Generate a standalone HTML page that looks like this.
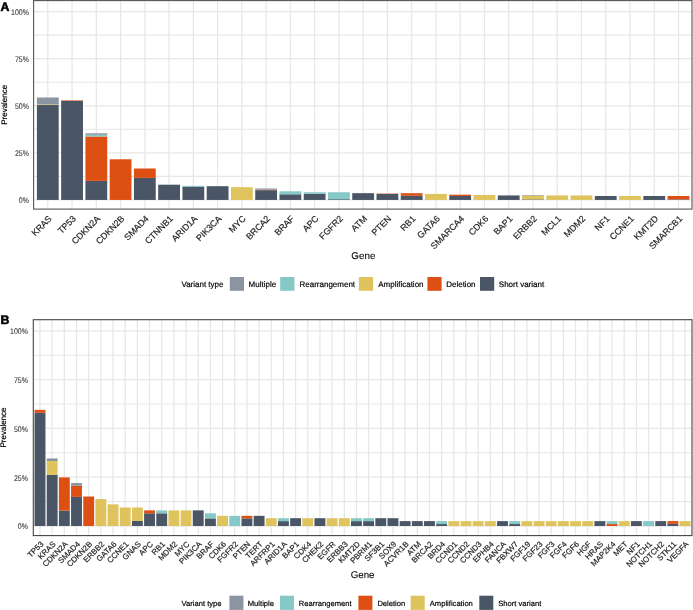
<!DOCTYPE html>
<html><head><meta charset="utf-8"><title>Variant prevalence</title>
<style>
html,body{margin:0;padding:0;background:#fff;}
body{width:693px;height:610px;overflow:hidden;}
svg{display:block;text-rendering:geometricPrecision;}
</style></head><body>
<svg width="693" height="610" viewBox="0 0 693 610" font-family="'Liberation Sans', Arial, Helvetica, sans-serif">
<rect width="693" height="610" fill="#fff"/>
<rect x="33.6" y="0.6" width="658.4" height="208.5" fill="#fff"/>
<line x1="33.6" x2="692" y1="176.41" y2="176.41" stroke="#e7e7e7" stroke-width="1.1"/>
<line x1="33.6" x2="692" y1="129.32" y2="129.32" stroke="#e7e7e7" stroke-width="1.1"/>
<line x1="33.6" x2="692" y1="82.23" y2="82.23" stroke="#e7e7e7" stroke-width="1.1"/>
<line x1="33.6" x2="692" y1="35.14" y2="35.14" stroke="#e7e7e7" stroke-width="1.1"/>
<line x1="33.6" x2="692" y1="199.95" y2="199.95" stroke="#e7e7e7" stroke-width="1.25"/>
<line x1="33.6" x2="692" y1="152.86" y2="152.86" stroke="#e7e7e7" stroke-width="1.25"/>
<line x1="33.6" x2="692" y1="105.77" y2="105.77" stroke="#e7e7e7" stroke-width="1.25"/>
<line x1="33.6" x2="692" y1="58.69" y2="58.69" stroke="#e7e7e7" stroke-width="1.25"/>
<line x1="33.6" x2="692" y1="11.6" y2="11.6" stroke="#e7e7e7" stroke-width="1.25"/>
<line x1="47.8" x2="47.8" y1="0.6" y2="209.1" stroke="#e7e7e7" stroke-width="1.25"/>
<line x1="72.06" x2="72.06" y1="0.6" y2="209.1" stroke="#e7e7e7" stroke-width="1.25"/>
<line x1="96.32" x2="96.32" y1="0.6" y2="209.1" stroke="#e7e7e7" stroke-width="1.25"/>
<line x1="120.57" x2="120.57" y1="0.6" y2="209.1" stroke="#e7e7e7" stroke-width="1.25"/>
<line x1="144.83" x2="144.83" y1="0.6" y2="209.1" stroke="#e7e7e7" stroke-width="1.25"/>
<line x1="169.09" x2="169.09" y1="0.6" y2="209.1" stroke="#e7e7e7" stroke-width="1.25"/>
<line x1="193.35" x2="193.35" y1="0.6" y2="209.1" stroke="#e7e7e7" stroke-width="1.25"/>
<line x1="217.6" x2="217.6" y1="0.6" y2="209.1" stroke="#e7e7e7" stroke-width="1.25"/>
<line x1="241.86" x2="241.86" y1="0.6" y2="209.1" stroke="#e7e7e7" stroke-width="1.25"/>
<line x1="266.12" x2="266.12" y1="0.6" y2="209.1" stroke="#e7e7e7" stroke-width="1.25"/>
<line x1="290.38" x2="290.38" y1="0.6" y2="209.1" stroke="#e7e7e7" stroke-width="1.25"/>
<line x1="314.63" x2="314.63" y1="0.6" y2="209.1" stroke="#e7e7e7" stroke-width="1.25"/>
<line x1="338.89" x2="338.89" y1="0.6" y2="209.1" stroke="#e7e7e7" stroke-width="1.25"/>
<line x1="363.15" x2="363.15" y1="0.6" y2="209.1" stroke="#e7e7e7" stroke-width="1.25"/>
<line x1="387.41" x2="387.41" y1="0.6" y2="209.1" stroke="#e7e7e7" stroke-width="1.25"/>
<line x1="411.67" x2="411.67" y1="0.6" y2="209.1" stroke="#e7e7e7" stroke-width="1.25"/>
<line x1="435.92" x2="435.92" y1="0.6" y2="209.1" stroke="#e7e7e7" stroke-width="1.25"/>
<line x1="460.18" x2="460.18" y1="0.6" y2="209.1" stroke="#e7e7e7" stroke-width="1.25"/>
<line x1="484.44" x2="484.44" y1="0.6" y2="209.1" stroke="#e7e7e7" stroke-width="1.25"/>
<line x1="508.7" x2="508.7" y1="0.6" y2="209.1" stroke="#e7e7e7" stroke-width="1.25"/>
<line x1="532.95" x2="532.95" y1="0.6" y2="209.1" stroke="#e7e7e7" stroke-width="1.25"/>
<line x1="557.21" x2="557.21" y1="0.6" y2="209.1" stroke="#e7e7e7" stroke-width="1.25"/>
<line x1="581.47" x2="581.47" y1="0.6" y2="209.1" stroke="#e7e7e7" stroke-width="1.25"/>
<line x1="605.73" x2="605.73" y1="0.6" y2="209.1" stroke="#e7e7e7" stroke-width="1.25"/>
<line x1="629.98" x2="629.98" y1="0.6" y2="209.1" stroke="#e7e7e7" stroke-width="1.25"/>
<line x1="654.24" x2="654.24" y1="0.6" y2="209.1" stroke="#e7e7e7" stroke-width="1.25"/>
<line x1="678.5" x2="678.5" y1="0.6" y2="209.1" stroke="#e7e7e7" stroke-width="1.25"/>
<rect x="36.9" y="105.02" width="21.8" height="94.93" fill="#4a5565"/>
<rect x="36.9" y="104.46" width="21.8" height="0.57" fill="#dfc45e"/>
<rect x="36.9" y="97.49" width="21.8" height="6.97" fill="#8a95a1"/>
<rect x="61.16" y="100.78" width="21.8" height="99.17" fill="#4a5565"/>
<rect x="61.16" y="100.31" width="21.8" height="0.47" fill="#de4f13"/>
<rect x="85.42" y="180.93" width="21.8" height="19.02" fill="#4a5565"/>
<rect x="85.42" y="136.48" width="21.8" height="44.45" fill="#de4f13"/>
<rect x="85.42" y="134.78" width="21.8" height="1.7" fill="#84c9c5"/>
<rect x="85.42" y="133.27" width="21.8" height="1.51" fill="#8a95a1"/>
<rect x="109.67" y="159.27" width="21.8" height="40.68" fill="#de4f13"/>
<rect x="133.93" y="177.91" width="21.8" height="22.04" fill="#4a5565"/>
<rect x="133.93" y="168.5" width="21.8" height="9.42" fill="#de4f13"/>
<rect x="158.19" y="184.69" width="21.8" height="15.26" fill="#4a5565"/>
<rect x="182.45" y="186.95" width="21.8" height="13" fill="#4a5565"/>
<rect x="182.45" y="185.82" width="21.8" height="1.13" fill="#84c9c5"/>
<rect x="206.7" y="186.2" width="21.8" height="13.75" fill="#4a5565"/>
<rect x="230.96" y="187.14" width="21.8" height="12.81" fill="#dfc45e"/>
<rect x="255.22" y="190.16" width="21.8" height="9.79" fill="#4a5565"/>
<rect x="255.22" y="189.59" width="21.8" height="0.57" fill="#de4f13"/>
<rect x="255.22" y="188.46" width="21.8" height="1.13" fill="#8a95a1"/>
<rect x="279.48" y="194.3" width="21.8" height="5.65" fill="#4a5565"/>
<rect x="279.48" y="191.29" width="21.8" height="3.01" fill="#84c9c5"/>
<rect x="303.73" y="193.73" width="21.8" height="6.22" fill="#4a5565"/>
<rect x="303.73" y="192.23" width="21.8" height="1.51" fill="#84c9c5"/>
<rect x="327.99" y="199.2" width="21.8" height="0.75" fill="#4a5565"/>
<rect x="327.99" y="192.23" width="21.8" height="6.97" fill="#84c9c5"/>
<rect x="352.25" y="193.17" width="21.8" height="6.78" fill="#4a5565"/>
<rect x="376.51" y="193.92" width="21.8" height="6.03" fill="#4a5565"/>
<rect x="376.51" y="193.55" width="21.8" height="0.38" fill="#de4f13"/>
<rect x="400.77" y="195.81" width="21.8" height="4.14" fill="#4a5565"/>
<rect x="400.77" y="193.17" width="21.8" height="2.64" fill="#de4f13"/>
<rect x="425.02" y="193.92" width="21.8" height="6.03" fill="#dfc45e"/>
<rect x="449.28" y="195.99" width="21.8" height="3.96" fill="#4a5565"/>
<rect x="449.28" y="194.68" width="21.8" height="1.32" fill="#de4f13"/>
<rect x="473.54" y="195.05" width="21.8" height="4.9" fill="#dfc45e"/>
<rect x="497.8" y="195.43" width="21.8" height="4.52" fill="#4a5565"/>
<rect x="522.05" y="199.38" width="21.8" height="0.57" fill="#4a5565"/>
<rect x="522.05" y="195.62" width="21.8" height="3.77" fill="#dfc45e"/>
<rect x="522.05" y="195.05" width="21.8" height="0.57" fill="#8a95a1"/>
<rect x="546.31" y="195.43" width="21.8" height="4.52" fill="#dfc45e"/>
<rect x="570.57" y="195.43" width="21.8" height="4.52" fill="#dfc45e"/>
<rect x="594.83" y="195.99" width="21.8" height="3.96" fill="#4a5565"/>
<rect x="619.08" y="195.99" width="21.8" height="3.96" fill="#dfc45e"/>
<rect x="643.34" y="195.99" width="21.8" height="3.96" fill="#4a5565"/>
<rect x="667.6" y="199.38" width="21.8" height="0.57" fill="#4a5565"/>
<rect x="667.6" y="195.99" width="21.8" height="3.39" fill="#de4f13"/>
<rect x="33.6" y="0.6" width="658.4" height="208.5" fill="none" stroke="#555555" stroke-width="1.1"/>
<text transform="translate(28.9 203.25) scale(1 1.16)" font-size="7.0" fill="#333333" stroke="#333333" stroke-width="0.08" text-anchor="end">0%</text>
<text transform="translate(28.9 156.16) scale(1 1.16)" font-size="7.0" fill="#333333" stroke="#333333" stroke-width="0.08" text-anchor="end">25%</text>
<text transform="translate(28.9 109.07) scale(1 1.16)" font-size="7.0" fill="#333333" stroke="#333333" stroke-width="0.08" text-anchor="end">50%</text>
<text transform="translate(28.9 61.99) scale(1 1.16)" font-size="7.0" fill="#333333" stroke="#333333" stroke-width="0.08" text-anchor="end">75%</text>
<text transform="translate(28.9 14.9) scale(1 1.16)" font-size="7.0" fill="#333333" stroke="#333333" stroke-width="0.08" text-anchor="end">100%</text>
<text x="6.8" y="104.8" font-size="8.0" fill="#000" text-anchor="middle" transform="rotate(-90 6.8 104.8)" stroke="#000" stroke-width="0.18">Prevalence</text>
<text x="47.8" y="221.17" font-size="8.9" fill="#1e1e1e" text-anchor="end" transform="rotate(-45 47.8 214.8)" stroke="#1e1e1e" stroke-width="0.18">KRAS</text>
<text x="72.06" y="221.17" font-size="8.9" fill="#1e1e1e" text-anchor="end" transform="rotate(-45 72.06 214.8)" stroke="#1e1e1e" stroke-width="0.18">TP53</text>
<text x="96.32" y="221.17" font-size="8.9" fill="#1e1e1e" text-anchor="end" transform="rotate(-45 96.32 214.8)" stroke="#1e1e1e" stroke-width="0.18">CDKN2A</text>
<text x="120.57" y="221.17" font-size="8.9" fill="#1e1e1e" text-anchor="end" transform="rotate(-45 120.57 214.8)" stroke="#1e1e1e" stroke-width="0.18">CDKN2B</text>
<text x="144.83" y="221.17" font-size="8.9" fill="#1e1e1e" text-anchor="end" transform="rotate(-45 144.83 214.8)" stroke="#1e1e1e" stroke-width="0.18">SMAD4</text>
<text x="169.09" y="221.17" font-size="8.9" fill="#1e1e1e" text-anchor="end" transform="rotate(-45 169.09 214.8)" stroke="#1e1e1e" stroke-width="0.18">CTNNB1</text>
<text x="193.35" y="221.17" font-size="8.9" fill="#1e1e1e" text-anchor="end" transform="rotate(-45 193.35 214.8)" stroke="#1e1e1e" stroke-width="0.18">ARID1A</text>
<text x="217.6" y="221.17" font-size="8.9" fill="#1e1e1e" text-anchor="end" transform="rotate(-45 217.6 214.8)" stroke="#1e1e1e" stroke-width="0.18">PIK3CA</text>
<text x="241.86" y="221.17" font-size="8.9" fill="#1e1e1e" text-anchor="end" transform="rotate(-45 241.86 214.8)" stroke="#1e1e1e" stroke-width="0.18">MYC</text>
<text x="266.12" y="221.17" font-size="8.9" fill="#1e1e1e" text-anchor="end" transform="rotate(-45 266.12 214.8)" stroke="#1e1e1e" stroke-width="0.18">BRCA2</text>
<text x="290.38" y="221.17" font-size="8.9" fill="#1e1e1e" text-anchor="end" transform="rotate(-45 290.38 214.8)" stroke="#1e1e1e" stroke-width="0.18">BRAF</text>
<text x="314.63" y="221.17" font-size="8.9" fill="#1e1e1e" text-anchor="end" transform="rotate(-45 314.63 214.8)" stroke="#1e1e1e" stroke-width="0.18">APC</text>
<text x="338.89" y="221.17" font-size="8.9" fill="#1e1e1e" text-anchor="end" transform="rotate(-45 338.89 214.8)" stroke="#1e1e1e" stroke-width="0.18">FGFR2</text>
<text x="363.15" y="221.17" font-size="8.9" fill="#1e1e1e" text-anchor="end" transform="rotate(-45 363.15 214.8)" stroke="#1e1e1e" stroke-width="0.18">ATM</text>
<text x="387.41" y="221.17" font-size="8.9" fill="#1e1e1e" text-anchor="end" transform="rotate(-45 387.41 214.8)" stroke="#1e1e1e" stroke-width="0.18">PTEN</text>
<text x="411.67" y="221.17" font-size="8.9" fill="#1e1e1e" text-anchor="end" transform="rotate(-45 411.67 214.8)" stroke="#1e1e1e" stroke-width="0.18">RB1</text>
<text x="435.92" y="221.17" font-size="8.9" fill="#1e1e1e" text-anchor="end" transform="rotate(-45 435.92 214.8)" stroke="#1e1e1e" stroke-width="0.18">GATA6</text>
<text x="460.18" y="221.17" font-size="8.9" fill="#1e1e1e" text-anchor="end" transform="rotate(-45 460.18 214.8)" stroke="#1e1e1e" stroke-width="0.18">SMARCA4</text>
<text x="484.44" y="221.17" font-size="8.9" fill="#1e1e1e" text-anchor="end" transform="rotate(-45 484.44 214.8)" stroke="#1e1e1e" stroke-width="0.18">CDK6</text>
<text x="508.7" y="221.17" font-size="8.9" fill="#1e1e1e" text-anchor="end" transform="rotate(-45 508.7 214.8)" stroke="#1e1e1e" stroke-width="0.18">BAP1</text>
<text x="532.95" y="221.17" font-size="8.9" fill="#1e1e1e" text-anchor="end" transform="rotate(-45 532.95 214.8)" stroke="#1e1e1e" stroke-width="0.18">ERBB2</text>
<text x="557.21" y="221.17" font-size="8.9" fill="#1e1e1e" text-anchor="end" transform="rotate(-45 557.21 214.8)" stroke="#1e1e1e" stroke-width="0.18">MCL1</text>
<text x="581.47" y="221.17" font-size="8.9" fill="#1e1e1e" text-anchor="end" transform="rotate(-45 581.47 214.8)" stroke="#1e1e1e" stroke-width="0.18">MDM2</text>
<text x="605.73" y="221.17" font-size="8.9" fill="#1e1e1e" text-anchor="end" transform="rotate(-45 605.73 214.8)" stroke="#1e1e1e" stroke-width="0.18">NF1</text>
<text x="629.98" y="221.17" font-size="8.9" fill="#1e1e1e" text-anchor="end" transform="rotate(-45 629.98 214.8)" stroke="#1e1e1e" stroke-width="0.18">CCNE1</text>
<text x="654.24" y="221.17" font-size="8.9" fill="#1e1e1e" text-anchor="end" transform="rotate(-45 654.24 214.8)" stroke="#1e1e1e" stroke-width="0.18">KMT2D</text>
<text x="678.5" y="221.17" font-size="8.9" fill="#1e1e1e" text-anchor="end" transform="rotate(-45 678.5 214.8)" stroke="#1e1e1e" stroke-width="0.18">SMARCB1</text>
<text x="363.4" y="259.4" font-size="9.85" fill="#000" stroke="#000" stroke-width="0.08" text-anchor="middle">Gene</text>
<text x="0.5" y="10.9" font-size="12.3" font-weight="bold" fill="#000" stroke="#000" stroke-width="0.55">A</text>
<text x="181.4" y="287" font-size="8.0" fill="#000" stroke="#000" stroke-width="0.18">Variant type</text>
<rect x="229.8" y="277" width="14.2" height="13.8" fill="#8a95a1"/>
<text x="248.6" y="287" font-size="8.0" fill="#000" stroke="#000" stroke-width="0.18">Multiple</text>
<rect x="280.2" y="277" width="14.2" height="13.8" fill="#84c9c5"/>
<text x="299.5" y="287" font-size="8.0" fill="#000" stroke="#000" stroke-width="0.18">Rearrangement</text>
<rect x="358.9" y="277" width="14.2" height="13.8" fill="#dfc45e"/>
<text x="378.2" y="287" font-size="8.0" fill="#000" stroke="#000" stroke-width="0.18">Amplification</text>
<rect x="427.4" y="277" width="14.2" height="13.8" fill="#de4f13"/>
<text x="446.2" y="287" font-size="8.0" fill="#000" stroke="#000" stroke-width="0.18">Deletion</text>
<rect x="480" y="277" width="14.2" height="13.8" fill="#4a5565"/>
<text x="498.8" y="287" font-size="8.0" fill="#000" stroke="#000" stroke-width="0.18">Short variant</text>
<rect x="33.3" y="319.7" width="658.7" height="215.9" fill="#fff"/>
<line x1="33.3" x2="692" y1="501.6" y2="501.6" stroke="#e7e7e7" stroke-width="1.1"/>
<line x1="33.3" x2="692" y1="452.8" y2="452.8" stroke="#e7e7e7" stroke-width="1.1"/>
<line x1="33.3" x2="692" y1="404" y2="404" stroke="#e7e7e7" stroke-width="1.1"/>
<line x1="33.3" x2="692" y1="355.2" y2="355.2" stroke="#e7e7e7" stroke-width="1.1"/>
<line x1="33.3" x2="692" y1="526" y2="526" stroke="#e7e7e7" stroke-width="1.25"/>
<line x1="33.3" x2="692" y1="477.2" y2="477.2" stroke="#e7e7e7" stroke-width="1.25"/>
<line x1="33.3" x2="692" y1="428.4" y2="428.4" stroke="#e7e7e7" stroke-width="1.25"/>
<line x1="33.3" x2="692" y1="379.6" y2="379.6" stroke="#e7e7e7" stroke-width="1.25"/>
<line x1="33.3" x2="692" y1="330.8" y2="330.8" stroke="#e7e7e7" stroke-width="1.25"/>
<line x1="40" x2="40" y1="319.7" y2="535.6" stroke="#e7e7e7" stroke-width="1.25"/>
<line x1="52.17" x2="52.17" y1="319.7" y2="535.6" stroke="#e7e7e7" stroke-width="1.25"/>
<line x1="64.34" x2="64.34" y1="319.7" y2="535.6" stroke="#e7e7e7" stroke-width="1.25"/>
<line x1="76.51" x2="76.51" y1="319.7" y2="535.6" stroke="#e7e7e7" stroke-width="1.25"/>
<line x1="88.68" x2="88.68" y1="319.7" y2="535.6" stroke="#e7e7e7" stroke-width="1.25"/>
<line x1="100.85" x2="100.85" y1="319.7" y2="535.6" stroke="#e7e7e7" stroke-width="1.25"/>
<line x1="113.03" x2="113.03" y1="319.7" y2="535.6" stroke="#e7e7e7" stroke-width="1.25"/>
<line x1="125.2" x2="125.2" y1="319.7" y2="535.6" stroke="#e7e7e7" stroke-width="1.25"/>
<line x1="137.37" x2="137.37" y1="319.7" y2="535.6" stroke="#e7e7e7" stroke-width="1.25"/>
<line x1="149.54" x2="149.54" y1="319.7" y2="535.6" stroke="#e7e7e7" stroke-width="1.25"/>
<line x1="161.71" x2="161.71" y1="319.7" y2="535.6" stroke="#e7e7e7" stroke-width="1.25"/>
<line x1="173.88" x2="173.88" y1="319.7" y2="535.6" stroke="#e7e7e7" stroke-width="1.25"/>
<line x1="186.05" x2="186.05" y1="319.7" y2="535.6" stroke="#e7e7e7" stroke-width="1.25"/>
<line x1="198.22" x2="198.22" y1="319.7" y2="535.6" stroke="#e7e7e7" stroke-width="1.25"/>
<line x1="210.39" x2="210.39" y1="319.7" y2="535.6" stroke="#e7e7e7" stroke-width="1.25"/>
<line x1="222.56" x2="222.56" y1="319.7" y2="535.6" stroke="#e7e7e7" stroke-width="1.25"/>
<line x1="234.74" x2="234.74" y1="319.7" y2="535.6" stroke="#e7e7e7" stroke-width="1.25"/>
<line x1="246.91" x2="246.91" y1="319.7" y2="535.6" stroke="#e7e7e7" stroke-width="1.25"/>
<line x1="259.08" x2="259.08" y1="319.7" y2="535.6" stroke="#e7e7e7" stroke-width="1.25"/>
<line x1="271.25" x2="271.25" y1="319.7" y2="535.6" stroke="#e7e7e7" stroke-width="1.25"/>
<line x1="283.42" x2="283.42" y1="319.7" y2="535.6" stroke="#e7e7e7" stroke-width="1.25"/>
<line x1="295.59" x2="295.59" y1="319.7" y2="535.6" stroke="#e7e7e7" stroke-width="1.25"/>
<line x1="307.76" x2="307.76" y1="319.7" y2="535.6" stroke="#e7e7e7" stroke-width="1.25"/>
<line x1="319.93" x2="319.93" y1="319.7" y2="535.6" stroke="#e7e7e7" stroke-width="1.25"/>
<line x1="332.1" x2="332.1" y1="319.7" y2="535.6" stroke="#e7e7e7" stroke-width="1.25"/>
<line x1="344.27" x2="344.27" y1="319.7" y2="535.6" stroke="#e7e7e7" stroke-width="1.25"/>
<line x1="356.44" x2="356.44" y1="319.7" y2="535.6" stroke="#e7e7e7" stroke-width="1.25"/>
<line x1="368.62" x2="368.62" y1="319.7" y2="535.6" stroke="#e7e7e7" stroke-width="1.25"/>
<line x1="380.79" x2="380.79" y1="319.7" y2="535.6" stroke="#e7e7e7" stroke-width="1.25"/>
<line x1="392.96" x2="392.96" y1="319.7" y2="535.6" stroke="#e7e7e7" stroke-width="1.25"/>
<line x1="405.13" x2="405.13" y1="319.7" y2="535.6" stroke="#e7e7e7" stroke-width="1.25"/>
<line x1="417.3" x2="417.3" y1="319.7" y2="535.6" stroke="#e7e7e7" stroke-width="1.25"/>
<line x1="429.47" x2="429.47" y1="319.7" y2="535.6" stroke="#e7e7e7" stroke-width="1.25"/>
<line x1="441.64" x2="441.64" y1="319.7" y2="535.6" stroke="#e7e7e7" stroke-width="1.25"/>
<line x1="453.81" x2="453.81" y1="319.7" y2="535.6" stroke="#e7e7e7" stroke-width="1.25"/>
<line x1="465.98" x2="465.98" y1="319.7" y2="535.6" stroke="#e7e7e7" stroke-width="1.25"/>
<line x1="478.15" x2="478.15" y1="319.7" y2="535.6" stroke="#e7e7e7" stroke-width="1.25"/>
<line x1="490.32" x2="490.32" y1="319.7" y2="535.6" stroke="#e7e7e7" stroke-width="1.25"/>
<line x1="502.5" x2="502.5" y1="319.7" y2="535.6" stroke="#e7e7e7" stroke-width="1.25"/>
<line x1="514.67" x2="514.67" y1="319.7" y2="535.6" stroke="#e7e7e7" stroke-width="1.25"/>
<line x1="526.84" x2="526.84" y1="319.7" y2="535.6" stroke="#e7e7e7" stroke-width="1.25"/>
<line x1="539.01" x2="539.01" y1="319.7" y2="535.6" stroke="#e7e7e7" stroke-width="1.25"/>
<line x1="551.18" x2="551.18" y1="319.7" y2="535.6" stroke="#e7e7e7" stroke-width="1.25"/>
<line x1="563.35" x2="563.35" y1="319.7" y2="535.6" stroke="#e7e7e7" stroke-width="1.25"/>
<line x1="575.52" x2="575.52" y1="319.7" y2="535.6" stroke="#e7e7e7" stroke-width="1.25"/>
<line x1="587.69" x2="587.69" y1="319.7" y2="535.6" stroke="#e7e7e7" stroke-width="1.25"/>
<line x1="599.86" x2="599.86" y1="319.7" y2="535.6" stroke="#e7e7e7" stroke-width="1.25"/>
<line x1="612.03" x2="612.03" y1="319.7" y2="535.6" stroke="#e7e7e7" stroke-width="1.25"/>
<line x1="624.21" x2="624.21" y1="319.7" y2="535.6" stroke="#e7e7e7" stroke-width="1.25"/>
<line x1="636.38" x2="636.38" y1="319.7" y2="535.6" stroke="#e7e7e7" stroke-width="1.25"/>
<line x1="648.55" x2="648.55" y1="319.7" y2="535.6" stroke="#e7e7e7" stroke-width="1.25"/>
<line x1="660.72" x2="660.72" y1="319.7" y2="535.6" stroke="#e7e7e7" stroke-width="1.25"/>
<line x1="672.89" x2="672.89" y1="319.7" y2="535.6" stroke="#e7e7e7" stroke-width="1.25"/>
<line x1="685.06" x2="685.06" y1="319.7" y2="535.6" stroke="#e7e7e7" stroke-width="1.25"/>
<rect x="34.55" y="412.78" width="10.9" height="113.22" fill="#4a5565"/>
<rect x="34.55" y="409.86" width="10.9" height="2.93" fill="#de4f13"/>
<rect x="46.72" y="474.86" width="10.9" height="51.14" fill="#4a5565"/>
<rect x="46.72" y="461" width="10.9" height="13.86" fill="#dfc45e"/>
<rect x="46.72" y="458.46" width="10.9" height="2.54" fill="#8a95a1"/>
<rect x="58.89" y="510.58" width="10.9" height="15.42" fill="#4a5565"/>
<rect x="58.89" y="477.4" width="10.9" height="33.18" fill="#de4f13"/>
<rect x="71.06" y="496.92" width="10.9" height="29.08" fill="#4a5565"/>
<rect x="71.06" y="485.79" width="10.9" height="11.13" fill="#de4f13"/>
<rect x="71.06" y="483.06" width="10.9" height="2.73" fill="#8a95a1"/>
<rect x="83.23" y="496.52" width="10.9" height="29.48" fill="#de4f13"/>
<rect x="95.4" y="499.06" width="10.9" height="26.94" fill="#dfc45e"/>
<rect x="107.58" y="504.33" width="10.9" height="21.67" fill="#dfc45e"/>
<rect x="119.75" y="507.46" width="10.9" height="18.54" fill="#dfc45e"/>
<rect x="131.92" y="520.92" width="10.9" height="5.08" fill="#4a5565"/>
<rect x="131.92" y="507.46" width="10.9" height="13.47" fill="#dfc45e"/>
<rect x="144.09" y="513.31" width="10.9" height="12.69" fill="#4a5565"/>
<rect x="144.09" y="510.38" width="10.9" height="2.93" fill="#de4f13"/>
<rect x="156.26" y="513.31" width="10.9" height="12.69" fill="#4a5565"/>
<rect x="156.26" y="510.38" width="10.9" height="2.93" fill="#84c9c5"/>
<rect x="168.43" y="510.38" width="10.9" height="15.62" fill="#dfc45e"/>
<rect x="180.6" y="510.38" width="10.9" height="15.62" fill="#dfc45e"/>
<rect x="192.77" y="510.38" width="10.9" height="15.62" fill="#4a5565"/>
<rect x="204.94" y="518.39" width="10.9" height="7.61" fill="#4a5565"/>
<rect x="204.94" y="513.31" width="10.9" height="5.08" fill="#84c9c5"/>
<rect x="217.11" y="515.85" width="10.9" height="10.15" fill="#dfc45e"/>
<rect x="229.29" y="515.85" width="10.9" height="10.15" fill="#84c9c5"/>
<rect x="241.46" y="518.39" width="10.9" height="7.61" fill="#4a5565"/>
<rect x="241.46" y="515.85" width="10.9" height="2.54" fill="#de4f13"/>
<rect x="253.63" y="515.85" width="10.9" height="10.15" fill="#4a5565"/>
<rect x="265.8" y="518.19" width="10.9" height="7.81" fill="#dfc45e"/>
<rect x="277.97" y="521.12" width="10.9" height="4.88" fill="#4a5565"/>
<rect x="277.97" y="518.19" width="10.9" height="2.93" fill="#84c9c5"/>
<rect x="290.14" y="518.19" width="10.9" height="7.81" fill="#4a5565"/>
<rect x="302.31" y="518.19" width="10.9" height="7.81" fill="#dfc45e"/>
<rect x="314.48" y="518.19" width="10.9" height="7.81" fill="#4a5565"/>
<rect x="326.65" y="518.19" width="10.9" height="7.81" fill="#dfc45e"/>
<rect x="338.82" y="518.19" width="10.9" height="7.81" fill="#dfc45e"/>
<rect x="350.99" y="521.12" width="10.9" height="4.88" fill="#4a5565"/>
<rect x="350.99" y="518.19" width="10.9" height="2.93" fill="#84c9c5"/>
<rect x="363.17" y="521.12" width="10.9" height="4.88" fill="#4a5565"/>
<rect x="363.17" y="518.19" width="10.9" height="2.93" fill="#84c9c5"/>
<rect x="375.34" y="518.19" width="10.9" height="7.81" fill="#4a5565"/>
<rect x="387.51" y="518.19" width="10.9" height="7.81" fill="#4a5565"/>
<rect x="399.68" y="521.12" width="10.9" height="4.88" fill="#4a5565"/>
<rect x="411.85" y="521.12" width="10.9" height="4.88" fill="#4a5565"/>
<rect x="424.02" y="521.12" width="10.9" height="4.88" fill="#4a5565"/>
<rect x="436.19" y="524.05" width="10.9" height="1.95" fill="#4a5565"/>
<rect x="436.19" y="521.12" width="10.9" height="2.93" fill="#84c9c5"/>
<rect x="448.36" y="521.12" width="10.9" height="4.88" fill="#dfc45e"/>
<rect x="460.53" y="521.12" width="10.9" height="4.88" fill="#dfc45e"/>
<rect x="472.7" y="521.12" width="10.9" height="4.88" fill="#dfc45e"/>
<rect x="484.87" y="521.12" width="10.9" height="4.88" fill="#dfc45e"/>
<rect x="497.05" y="521.12" width="10.9" height="4.88" fill="#4a5565"/>
<rect x="509.22" y="524.05" width="10.9" height="1.95" fill="#4a5565"/>
<rect x="509.22" y="521.12" width="10.9" height="2.93" fill="#84c9c5"/>
<rect x="521.39" y="521.12" width="10.9" height="4.88" fill="#dfc45e"/>
<rect x="533.56" y="521.12" width="10.9" height="4.88" fill="#dfc45e"/>
<rect x="545.73" y="521.12" width="10.9" height="4.88" fill="#dfc45e"/>
<rect x="557.9" y="521.12" width="10.9" height="4.88" fill="#dfc45e"/>
<rect x="570.07" y="521.12" width="10.9" height="4.88" fill="#dfc45e"/>
<rect x="582.24" y="521.12" width="10.9" height="4.88" fill="#dfc45e"/>
<rect x="594.41" y="521.12" width="10.9" height="4.88" fill="#4a5565"/>
<rect x="606.58" y="524.05" width="10.9" height="1.95" fill="#de4f13"/>
<rect x="606.58" y="521.12" width="10.9" height="2.93" fill="#84c9c5"/>
<rect x="618.76" y="521.12" width="10.9" height="4.88" fill="#dfc45e"/>
<rect x="630.93" y="521.12" width="10.9" height="4.88" fill="#4a5565"/>
<rect x="643.1" y="521.12" width="10.9" height="4.88" fill="#84c9c5"/>
<rect x="655.27" y="521.12" width="10.9" height="4.88" fill="#4a5565"/>
<rect x="667.44" y="523.85" width="10.9" height="2.15" fill="#4a5565"/>
<rect x="667.44" y="521.12" width="10.9" height="2.73" fill="#de4f13"/>
<rect x="679.61" y="521.12" width="10.9" height="4.88" fill="#dfc45e"/>
<rect x="33.3" y="319.7" width="658.7" height="215.9" fill="none" stroke="#444444" stroke-width="1.1"/>
<text transform="translate(27.9 529.3) scale(1 1.16)" font-size="7.0" fill="#333333" stroke="#333333" stroke-width="0.08" text-anchor="end">0%</text>
<text transform="translate(27.9 480.5) scale(1 1.16)" font-size="7.0" fill="#333333" stroke="#333333" stroke-width="0.08" text-anchor="end">25%</text>
<text transform="translate(27.9 431.7) scale(1 1.16)" font-size="7.0" fill="#333333" stroke="#333333" stroke-width="0.08" text-anchor="end">50%</text>
<text transform="translate(27.9 382.9) scale(1 1.16)" font-size="7.0" fill="#333333" stroke="#333333" stroke-width="0.08" text-anchor="end">75%</text>
<text transform="translate(27.9 334.1) scale(1 1.16)" font-size="7.0" fill="#333333" stroke="#333333" stroke-width="0.08" text-anchor="end">100%</text>
<text x="6.4" y="427.5" font-size="8.0" fill="#000" text-anchor="middle" transform="rotate(-90 6.4 427.5)" stroke="#000" stroke-width="0.18">Prevalence</text>
<text x="40" y="546.26" font-size="7.9" fill="#1e1e1e" text-anchor="end" transform="rotate(-45 40 540.6)" stroke="#1e1e1e" stroke-width="0.18">TP53</text>
<text x="52.17" y="546.26" font-size="7.9" fill="#1e1e1e" text-anchor="end" transform="rotate(-45 52.17 540.6)" stroke="#1e1e1e" stroke-width="0.18">KRAS</text>
<text x="64.34" y="546.26" font-size="7.9" fill="#1e1e1e" text-anchor="end" transform="rotate(-45 64.34 540.6)" stroke="#1e1e1e" stroke-width="0.18">CDKN2A</text>
<text x="76.51" y="546.26" font-size="7.9" fill="#1e1e1e" text-anchor="end" transform="rotate(-45 76.51 540.6)" stroke="#1e1e1e" stroke-width="0.18">SMAD4</text>
<text x="88.68" y="546.26" font-size="7.9" fill="#1e1e1e" text-anchor="end" transform="rotate(-45 88.68 540.6)" stroke="#1e1e1e" stroke-width="0.18">CDKN2B</text>
<text x="100.85" y="546.26" font-size="7.9" fill="#1e1e1e" text-anchor="end" transform="rotate(-45 100.85 540.6)" stroke="#1e1e1e" stroke-width="0.18">ERBB2</text>
<text x="113.03" y="546.26" font-size="7.9" fill="#1e1e1e" text-anchor="end" transform="rotate(-45 113.03 540.6)" stroke="#1e1e1e" stroke-width="0.18">GATA6</text>
<text x="125.2" y="546.26" font-size="7.9" fill="#1e1e1e" text-anchor="end" transform="rotate(-45 125.2 540.6)" stroke="#1e1e1e" stroke-width="0.18">CCNE1</text>
<text x="137.37" y="546.26" font-size="7.9" fill="#1e1e1e" text-anchor="end" transform="rotate(-45 137.37 540.6)" stroke="#1e1e1e" stroke-width="0.18">GNAS</text>
<text x="149.54" y="546.26" font-size="7.9" fill="#1e1e1e" text-anchor="end" transform="rotate(-45 149.54 540.6)" stroke="#1e1e1e" stroke-width="0.18">APC</text>
<text x="161.71" y="546.26" font-size="7.9" fill="#1e1e1e" text-anchor="end" transform="rotate(-45 161.71 540.6)" stroke="#1e1e1e" stroke-width="0.18">RB1</text>
<text x="173.88" y="546.26" font-size="7.9" fill="#1e1e1e" text-anchor="end" transform="rotate(-45 173.88 540.6)" stroke="#1e1e1e" stroke-width="0.18">MDM2</text>
<text x="186.05" y="546.26" font-size="7.9" fill="#1e1e1e" text-anchor="end" transform="rotate(-45 186.05 540.6)" stroke="#1e1e1e" stroke-width="0.18">MYC</text>
<text x="198.22" y="546.26" font-size="7.9" fill="#1e1e1e" text-anchor="end" transform="rotate(-45 198.22 540.6)" stroke="#1e1e1e" stroke-width="0.18">PIK3CA</text>
<text x="210.39" y="546.26" font-size="7.9" fill="#1e1e1e" text-anchor="end" transform="rotate(-45 210.39 540.6)" stroke="#1e1e1e" stroke-width="0.18">BRAF</text>
<text x="222.56" y="546.26" font-size="7.9" fill="#1e1e1e" text-anchor="end" transform="rotate(-45 222.56 540.6)" stroke="#1e1e1e" stroke-width="0.18">CDK6</text>
<text x="234.74" y="546.26" font-size="7.9" fill="#1e1e1e" text-anchor="end" transform="rotate(-45 234.74 540.6)" stroke="#1e1e1e" stroke-width="0.18">FGFR2</text>
<text x="246.91" y="546.26" font-size="7.9" fill="#1e1e1e" text-anchor="end" transform="rotate(-45 246.91 540.6)" stroke="#1e1e1e" stroke-width="0.18">PTEN</text>
<text x="259.08" y="546.26" font-size="7.9" fill="#1e1e1e" text-anchor="end" transform="rotate(-45 259.08 540.6)" stroke="#1e1e1e" stroke-width="0.18">TERT</text>
<text x="271.25" y="546.26" font-size="7.9" fill="#1e1e1e" text-anchor="end" transform="rotate(-45 271.25 540.6)" stroke="#1e1e1e" stroke-width="0.18">ARFRP1</text>
<text x="283.42" y="546.26" font-size="7.9" fill="#1e1e1e" text-anchor="end" transform="rotate(-45 283.42 540.6)" stroke="#1e1e1e" stroke-width="0.18">ARID1A</text>
<text x="295.59" y="546.26" font-size="7.9" fill="#1e1e1e" text-anchor="end" transform="rotate(-45 295.59 540.6)" stroke="#1e1e1e" stroke-width="0.18">BAP1</text>
<text x="307.76" y="546.26" font-size="7.9" fill="#1e1e1e" text-anchor="end" transform="rotate(-45 307.76 540.6)" stroke="#1e1e1e" stroke-width="0.18">CDK4</text>
<text x="319.93" y="546.26" font-size="7.9" fill="#1e1e1e" text-anchor="end" transform="rotate(-45 319.93 540.6)" stroke="#1e1e1e" stroke-width="0.18">CHEK2</text>
<text x="332.1" y="546.26" font-size="7.9" fill="#1e1e1e" text-anchor="end" transform="rotate(-45 332.1 540.6)" stroke="#1e1e1e" stroke-width="0.18">EGFR</text>
<text x="344.27" y="546.26" font-size="7.9" fill="#1e1e1e" text-anchor="end" transform="rotate(-45 344.27 540.6)" stroke="#1e1e1e" stroke-width="0.18">ERBB3</text>
<text x="356.44" y="546.26" font-size="7.9" fill="#1e1e1e" text-anchor="end" transform="rotate(-45 356.44 540.6)" stroke="#1e1e1e" stroke-width="0.18">KMT2D</text>
<text x="368.62" y="546.26" font-size="7.9" fill="#1e1e1e" text-anchor="end" transform="rotate(-45 368.62 540.6)" stroke="#1e1e1e" stroke-width="0.18">PBRM1</text>
<text x="380.79" y="546.26" font-size="7.9" fill="#1e1e1e" text-anchor="end" transform="rotate(-45 380.79 540.6)" stroke="#1e1e1e" stroke-width="0.18">SF3B1</text>
<text x="392.96" y="546.26" font-size="7.9" fill="#1e1e1e" text-anchor="end" transform="rotate(-45 392.96 540.6)" stroke="#1e1e1e" stroke-width="0.18">SOX9</text>
<text x="405.13" y="546.26" font-size="7.9" fill="#1e1e1e" text-anchor="end" transform="rotate(-45 405.13 540.6)" stroke="#1e1e1e" stroke-width="0.18">ACVR1B</text>
<text x="417.3" y="546.26" font-size="7.9" fill="#1e1e1e" text-anchor="end" transform="rotate(-45 417.3 540.6)" stroke="#1e1e1e" stroke-width="0.18">ATM</text>
<text x="429.47" y="546.26" font-size="7.9" fill="#1e1e1e" text-anchor="end" transform="rotate(-45 429.47 540.6)" stroke="#1e1e1e" stroke-width="0.18">BRCA2</text>
<text x="441.64" y="546.26" font-size="7.9" fill="#1e1e1e" text-anchor="end" transform="rotate(-45 441.64 540.6)" stroke="#1e1e1e" stroke-width="0.18">BRD4</text>
<text x="453.81" y="546.26" font-size="7.9" fill="#1e1e1e" text-anchor="end" transform="rotate(-45 453.81 540.6)" stroke="#1e1e1e" stroke-width="0.18">CCND1</text>
<text x="465.98" y="546.26" font-size="7.9" fill="#1e1e1e" text-anchor="end" transform="rotate(-45 465.98 540.6)" stroke="#1e1e1e" stroke-width="0.18">CCND2</text>
<text x="478.15" y="546.26" font-size="7.9" fill="#1e1e1e" text-anchor="end" transform="rotate(-45 478.15 540.6)" stroke="#1e1e1e" stroke-width="0.18">CCND3</text>
<text x="490.32" y="546.26" font-size="7.9" fill="#1e1e1e" text-anchor="end" transform="rotate(-45 490.32 540.6)" stroke="#1e1e1e" stroke-width="0.18">EPHB4</text>
<text x="502.5" y="546.26" font-size="7.9" fill="#1e1e1e" text-anchor="end" transform="rotate(-45 502.5 540.6)" stroke="#1e1e1e" stroke-width="0.18">FANCA</text>
<text x="514.67" y="546.26" font-size="7.9" fill="#1e1e1e" text-anchor="end" transform="rotate(-45 514.67 540.6)" stroke="#1e1e1e" stroke-width="0.18">FBXW7</text>
<text x="526.84" y="546.26" font-size="7.9" fill="#1e1e1e" text-anchor="end" transform="rotate(-45 526.84 540.6)" stroke="#1e1e1e" stroke-width="0.18">FGF19</text>
<text x="539.01" y="546.26" font-size="7.9" fill="#1e1e1e" text-anchor="end" transform="rotate(-45 539.01 540.6)" stroke="#1e1e1e" stroke-width="0.18">FGF23</text>
<text x="551.18" y="546.26" font-size="7.9" fill="#1e1e1e" text-anchor="end" transform="rotate(-45 551.18 540.6)" stroke="#1e1e1e" stroke-width="0.18">FGF3</text>
<text x="563.35" y="546.26" font-size="7.9" fill="#1e1e1e" text-anchor="end" transform="rotate(-45 563.35 540.6)" stroke="#1e1e1e" stroke-width="0.18">FGF4</text>
<text x="575.52" y="546.26" font-size="7.9" fill="#1e1e1e" text-anchor="end" transform="rotate(-45 575.52 540.6)" stroke="#1e1e1e" stroke-width="0.18">FGF6</text>
<text x="587.69" y="546.26" font-size="7.9" fill="#1e1e1e" text-anchor="end" transform="rotate(-45 587.69 540.6)" stroke="#1e1e1e" stroke-width="0.18">HGF</text>
<text x="599.86" y="546.26" font-size="7.9" fill="#1e1e1e" text-anchor="end" transform="rotate(-45 599.86 540.6)" stroke="#1e1e1e" stroke-width="0.18">HRAS</text>
<text x="612.03" y="546.26" font-size="7.9" fill="#1e1e1e" text-anchor="end" transform="rotate(-45 612.03 540.6)" stroke="#1e1e1e" stroke-width="0.18">MAP2K4</text>
<text x="624.21" y="546.26" font-size="7.9" fill="#1e1e1e" text-anchor="end" transform="rotate(-45 624.21 540.6)" stroke="#1e1e1e" stroke-width="0.18">MET</text>
<text x="636.38" y="546.26" font-size="7.9" fill="#1e1e1e" text-anchor="end" transform="rotate(-45 636.38 540.6)" stroke="#1e1e1e" stroke-width="0.18">NF1</text>
<text x="648.55" y="546.26" font-size="7.9" fill="#1e1e1e" text-anchor="end" transform="rotate(-45 648.55 540.6)" stroke="#1e1e1e" stroke-width="0.18">NOTCH1</text>
<text x="660.72" y="546.26" font-size="7.9" fill="#1e1e1e" text-anchor="end" transform="rotate(-45 660.72 540.6)" stroke="#1e1e1e" stroke-width="0.18">NOTCH2</text>
<text x="672.89" y="546.26" font-size="7.9" fill="#1e1e1e" text-anchor="end" transform="rotate(-45 672.89 540.6)" stroke="#1e1e1e" stroke-width="0.18">STK11</text>
<text x="685.06" y="546.26" font-size="7.9" fill="#1e1e1e" text-anchor="end" transform="rotate(-45 685.06 540.6)" stroke="#1e1e1e" stroke-width="0.18">VEGFA</text>
<text x="362.6" y="578.3" font-size="9.7" fill="#000" stroke="#000" stroke-width="0.08" text-anchor="middle">Gene</text>
<text x="0.6" y="323.6" font-size="12.3" font-weight="bold" fill="#000" stroke="#000" stroke-width="0.55">B</text>
<text x="181.6" y="605.5" font-size="7.6" fill="#000" stroke="#000" stroke-width="0.18">Variant type</text>
<rect x="229.4" y="595.7" width="14" height="14.2" fill="#8a95a1"/>
<text x="247.8" y="605.5" font-size="7.6" fill="#000" stroke="#000" stroke-width="0.18">Multiple</text>
<rect x="280" y="595.7" width="14" height="14.2" fill="#84c9c5"/>
<text x="298.8" y="605.5" font-size="7.6" fill="#000" stroke="#000" stroke-width="0.18">Rearrangement</text>
<rect x="358.4" y="595.7" width="14" height="14.2" fill="#de4f13"/>
<text x="377.4" y="605.5" font-size="7.6" fill="#000" stroke="#000" stroke-width="0.18">Deletion</text>
<rect x="410.7" y="595.7" width="14" height="14.2" fill="#dfc45e"/>
<text x="429.8" y="605.5" font-size="7.6" fill="#000" stroke="#000" stroke-width="0.18">Amplification</text>
<rect x="479.3" y="595.7" width="14" height="14.2" fill="#4a5565"/>
<text x="498.3" y="605.5" font-size="7.6" fill="#000" stroke="#000" stroke-width="0.18">Short variant</text>
</svg>
</body></html>
